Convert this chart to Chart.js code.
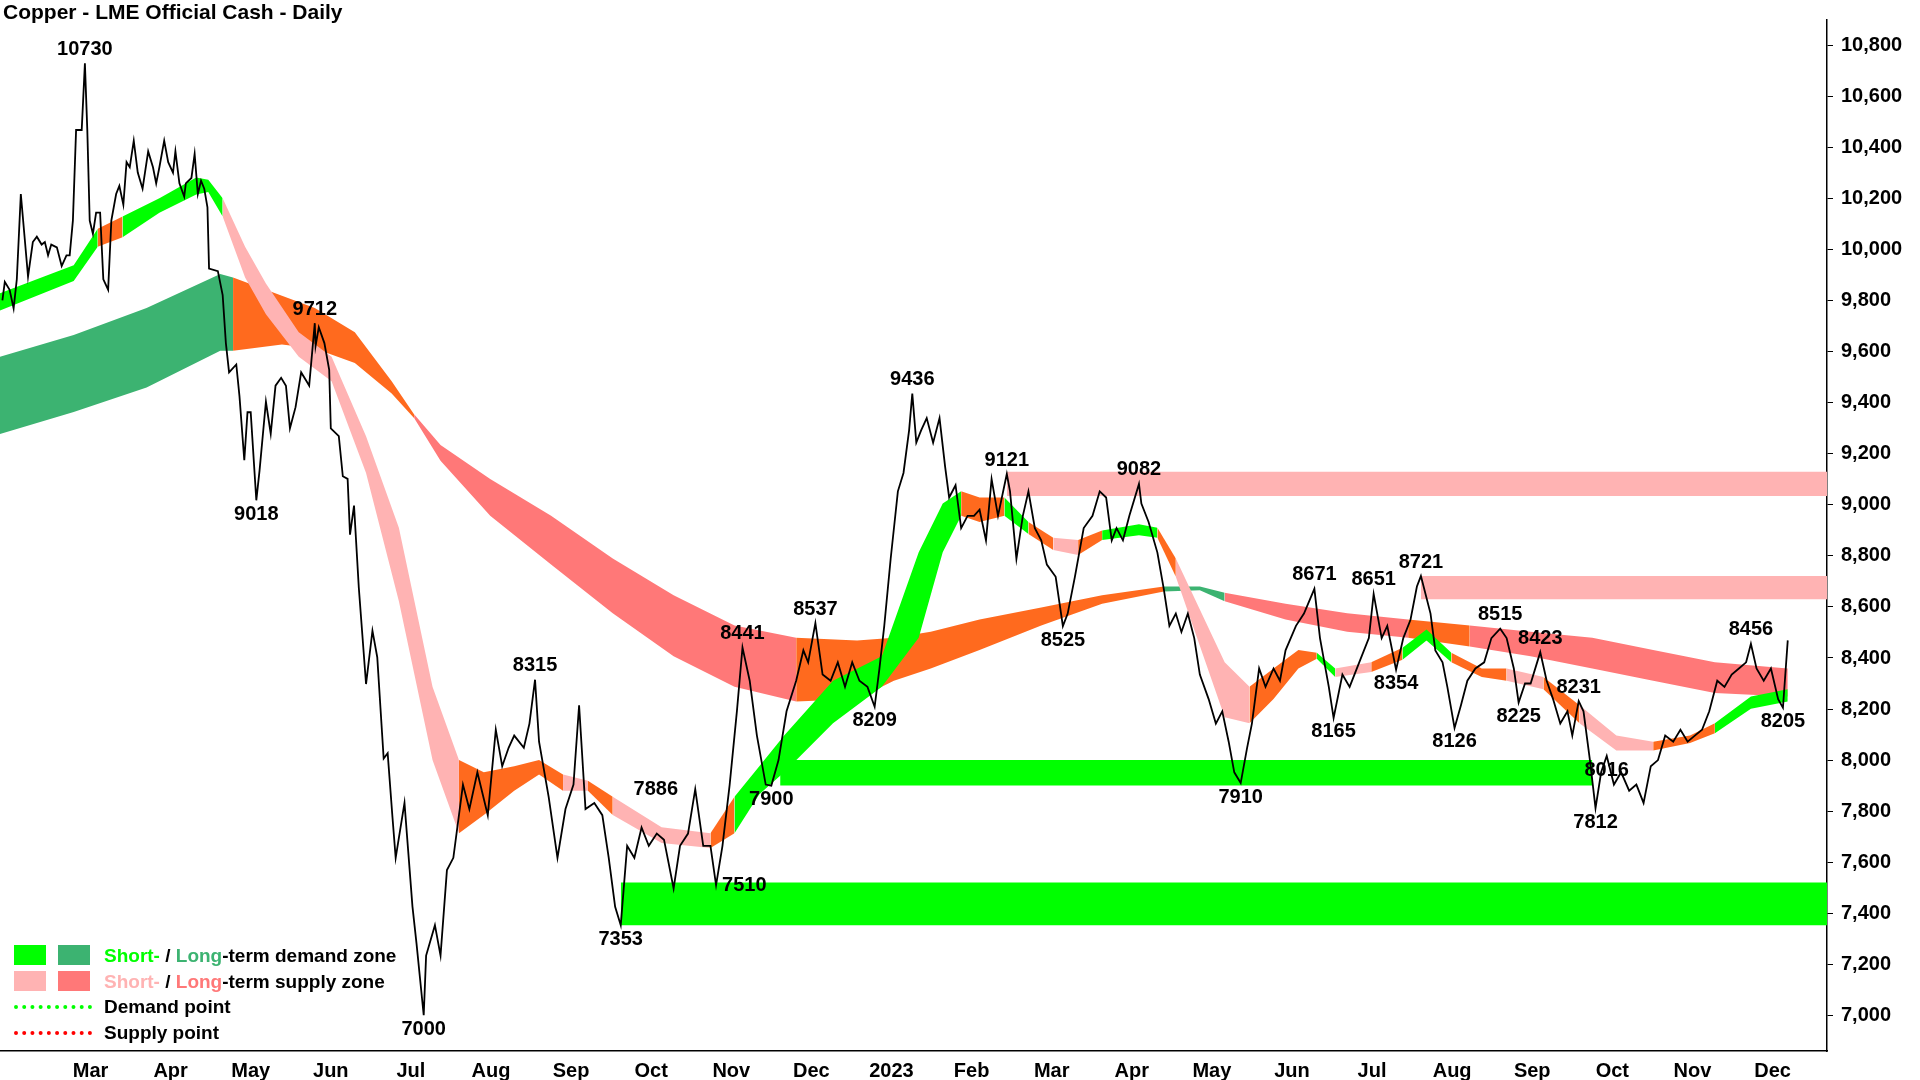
<!DOCTYPE html>
<html><head><meta charset="utf-8">
<script src="https://cdn.jsdelivr.net/npm/chart.js@4/dist/chart.umd.min.js"></script>
<style>
html,body{margin:0;padding:0;background:#fff;width:1920px;height:1080px;overflow:hidden;font-family:"Liberation Sans",Arial,sans-serif}
#wrap{position:absolute;left:0;top:0;width:1920px;height:1080px}
#title{position:absolute;left:3px;top:0px;font-weight:bold;font-size:21px;color:#000}
#legend{position:absolute;left:14px;top:943px;font-weight:bold;font-size:19px;line-height:25.5px}
.row{position:relative;height:25.5px;padding-left:90px;white-space:nowrap}
.sw{position:absolute;top:2px;width:32px;height:20px}
.dot{position:absolute;top:11px;left:0;width:78px;height:0;border-top:4px dotted}
</style></head><body>
<div id="wrap"><canvas id="c" width="1920" height="1080"></canvas></div>
<div id="title">Copper - LME Official Cash - Daily</div>
<div id="legend">
 <div class="row"><span class="sw" style="left:0;background:#00FF00"></span><span class="sw" style="left:44px;background:#3CB371"></span><span style="color:#00FF00">Short-</span> / <span style="color:#3CB371">Long</span>-term demand zone</div>
 <div class="row"><span class="sw" style="left:0;background:#FFB3B3"></span><span class="sw" style="left:44px;background:#FF7878"></span><span style="color:#FFB3B3">Short-</span> / <span style="color:#FF7878">Long</span>-term supply zone</div>
 <div class="row"><span class="dot" style="border-color:#00FF00"></span>Demand point</div>
 <div class="row"><span class="dot" style="border-color:#FF0000"></span>Supply point</div>
</div>
<script>
// x unit: months since 1 Mar 2022
const monthLabels=["Mar","Apr","May","Jun","Jul","Aug","Sep","Oct","Nov","Dec","2023","Feb","Mar","Apr","May","Jun","Jul","Aug","Sep","Oct","Nov","Dec"];
const yTicks=[7000,7200,7400,7600,7800,8000,8200,8400,8600,8800,9000,9200,9400,9600,9800,10000,10200,10400,10600,10800];

const priceX=[-0.60,-0.57,-0.51,-0.46,-0.42,-0.37,-0.28,-0.22,-0.17,-0.11,-0.07,-0.03,0.01,0.08,0.14,0.20,0.24,0.28,0.32,0.39,0.43,0.46,0.49,0.53,0.57,0.62,0.66,0.72,0.76,0.82,0.86,0.91,0.95,0.99,1.04,1.09,1.15,1.22,1.28,1.32,1.36,1.42,1.47,1.53,1.56,1.61,1.67,1.69,1.76,1.80,1.84,1.88,1.92,1.96,1.98,2.09,2.15,2.19,2.23,2.32,2.36,2.42,2.46,2.50,2.57,2.61,2.69,2.75,2.81,2.88,2.94,2.99,3.06,3.13,3.19,3.23,3.30,3.31,3.35,3.42,3.48,3.50,3.60,3.65,3.71,3.74,3.79,3.85,3.94,4.02,4.08,4.16,4.21,4.27,
4.31,4.42,4.52,4.57,4.66,4.69,4.80,4.87,4.95,5.03,5.15,5.23,5.33,5.46,5.56,5.64,5.72,5.79,5.91,5.98,6.05,6.10,6.22,6.33,6.43,6.53,6.60,6.68,6.79,6.89,6.97,7.05,7.12,7.20,7.29,7.38,7.47,7.57,7.66,7.78,7.86,7.96,8.05,8.15,8.24,8.31,8.39,8.48,8.57,8.64,8.73,8.82,8.93,9.00,9.09,9.19,9.31,9.40,9.46,9.55,9.64,9.74,9.83,9.92,10.01,10.10,10.20,10.29,10.35,10.41,10.49,10.58,10.65,10.72,10.76,10.81,10.87,10.94,11.02,11.10,11.17,11.22,11.30,11.37,11.45,11.53,11.60,11.68,11.75,11.83,11.94,11.98,12.06,12.14,12.21,12.29,12.37,12.44,12.55,12.64,12.70,12.79,12.90,13.01,13.10,13.18,13.25,13.31,13.39,13.47,13.59,13.62,13.71,13.82,13.90,13.97,14.05,14.12,14.20,14.28,14.35,14.46,14.55,14.63,14.71,14.78,14.86,14.94,15.00,15.09,15.17,15.27,15.35,15.42,15.55,15.65,15.78,15.85,15.96,16.02,16.13,16.22,16.34,16.46,16.52,16.62,16.69,16.80,16.89,16.98,17.06,17.11,17.23,17.29,17.38,17.44,17.53,17.61,17.69,17.79,17.90,17.99,18.10,18.18,18.27,18.33,18.41,18.48,18.60,18.68,18.76,18.85,18.94,19.00,19.08,19.14,19.22,19.29,19.36,19.43,19.52,19.61,19.71,19.80,19.89,19.98,20.07,20.16,20.26,20.35,20.44,20.53,20.62,20.71,20.81,20.90,20.99,21.08,21.17,21.23,21.30,21.39,21.48,21.57,21.63,21.69];
const priceY=[9801,9874,9843,9770,9884,10218,9895,10030,10051,10020,10030,9978,10020,10009,9936,9978,9978,10114,10469,10469,10730,10469,10114,10062,10145,10145,9884,9843,10114,10218,10250,10176,10343,10323,10427,10302,10239,10385,10323,10260,10323,10427,10343,10302,10385,10260,10208,10260,10281,10375,10218,10270,10239,10166,9926,9916,9822,9634,9519,9550,9425,9175,9363,9363,9018,9133,9404,9279,9467,9498,9467,9300,9383,9519,9488,9467,9712,9623,9696,9634,9529,9300,9269,9112,9102,8883,8997,8674,8298,8507,8403,8006,8027,7776,
7617,7832,7425,7282,7000,7234,7353,7234,7569,7617,7904,7808,7952,7784,8119,7976,8048,8096,8048,8143,8315,8072,7856,7617,7808,7904,8215,7808,7832,7784,7617,7425,7353,7664,7617,7736,7664,7712,7688,7497,7664,7712,7886,7664,7664,7510,7664,7904,8191,8441,8311,8096,7904,7900,8000,8191,8311,8430,8383,8537,8335,8311,8383,8287,8383,8311,8287,8209,8359,8526,8789,9053,9125,9292,9436,9244,9292,9340,9244,9340,9149,9029,9077,8909,8957,8957,8981,8861,9101,8957,9121,9053,8789,8957,9053,8909,8861,8766,8718,8525,8574,8718,8909,8957,9053,9029,8861,8909,8861,8957,9082,9005,8933,8813,8670,8526,8574,8502,8574,8478,8335,8239,8143,8191,8072,7952,7910,8048,8143,8359,8287,8359,8311,8430,8526,8574,8671,8478,8287,8165,8335,8287,8383,8478,8651,8478,8526,8354,8478,8550,8680,8721,8574,8430,8383,8287,8126,8215,8311,8359,8383,8478,8515,8478,8359,8225,8300,8300,8423,8311,8239,8143,8191,8096,8231,8191,8000,7812,7952,8016,7904,7952,7880,7904,7832,7976,8000,8096,8072,8119,8072,8096,8119,8191,8311,8287,8335,8359,8383,8456,8359,8311,8359,8239,8205,8469];

const shortX=[-0.63,0.29,0.59,0.90,1.36,1.82,1.97,2.15,2.43,2.69,3.10,3.51,3.94,4.35,4.77,5.10,5.41,5.79,6.10,6.40,6.71,7.02,7.63,8.24,8.54,8.85,9.16,9.77,10.38,10.84,11.14,11.37,11.60,11.91,12.21,12.52,12.83,13.13,13.59,13.82,14.05,14.66,14.97,15.27,15.58,15.81,16.04,16.49,16.88,17.18,17.49,17.87,18.18,18.64,19.09,19.55,20.01,20.47,20.78,21.23,21.69];
const shortUp=[9829,9939,10082,10130,10202,10283,10274,10202,10011,9867,9676,9580,9269,8910,8287,8000,7952,7976,8000,7943,7919,7856,7737,7713,7856,7976,8096,8311,8407,8814,9005,9053,9029,9029,8933,8871,8862,8900,8924,8910,8790,8383,8287,8359,8431,8421,8359,8383,8440,8512,8421,8359,8359,8326,8215,8096,8072,8096,8144,8249,8278];
const shortLo=[9762,9877,10011,10049,10145,10216,10226,10130,9891,9747,9580,9484,9125,8622,8000,7713,7785,7880,7943,7880,7880,7785,7675,7655,7713,7866,7952,8144,8287,8479,8814,8957,8933,8957,8886,8823,8804,8862,8881,8871,8718,8168,8144,8239,8359,8397,8326,8345,8393,8469,8383,8326,8311,8278,8144,8038,8038,8067,8105,8201,8230];
const shortColorX=[-1,0.59,0.90,2.05,5.10,6.17,6.56,6.86,8.16,8.39,11.37,11.83,11.98,12.37,12.67,13.05,13.28,13.51,13.74,13.97,14.89,15.73,15.88,16.42,16.65,17.34,18.02,18.48,18.86,20.01,20.62];
const shortColorK=["G","O","G","P","O","P","O","P","O","G","O","G","O","P","O","G","O","G","O","P","O","G","P","O","G","O","P","O","P","O","G"];

const longX=[-0.63,0.29,1.20,2.12,2.28,2.89,3.30,3.80,4.26,4.54,4.87,5.49,6.25,7.02,7.78,8.54,9.31,10.07,10.53,10.99,11.60,12.37,13.13,13.90,14.35,14.66,15.42,16.19,16.95,17.72,18.48,19.25,20.01,20.78,21.69];
const longUp=[9580,9666,9771,9905,9891,9819,9771,9676,9484,9355,9235,9101,8957,8790,8646,8527,8479,8469,8479,8503,8551,8598,8646,8680,8680,8656,8613,8575,8551,8527,8503,8479,8431,8383,8359];
const longLo=[9278,9364,9460,9604,9604,9628,9613,9556,9436,9340,9173,8957,8766,8575,8407,8287,8230,8239,8311,8359,8431,8527,8613,8661,8665,8622,8551,8503,8479,8445,8407,8359,8311,8263,8249];
const longColorX=[-1,2.17,4.54,8.70,8.85,9.31,13.90,14.43,16.65,17.11,20.93];
const longColorK=["D","O","R","O","R","O","D","R","O","R","O"];

const zoneStart=[11.94,17.11,9.11,7.12];
const zoneEnd=[22.18,22.18,19.25,22.18];
const zoneTop=[9130,8721,8000,7520];
const zoneBottom=[9035,8630,7900,7353];
const zoneKind=["P","P","G","G"];

const labelX=[0.43,2.57,3.30,4.66,6.05,7.12,7.86,8.31,8.64,9.00,9.55,10.29,10.76,11.94,12.64,13.59,14.86,15.78,16.02,16.52,16.80,17.11,17.53,18.10,18.33,18.60,19.08,19.29,19.43,21.23,21.63];
const labelV=[10730,9018,9712,7000,8315,7353,7886,7510,8441,7900,8537,8209,9436,9121,8525,9082,7910,8671,8165,8651,8354,8721,8126,8515,8225,8423,8231,7812,8016,8456,8205];
const labelPos=["a","b","a","b","a","b","l","r","a","b","a","b","a","a","b","a","b","a","b","a","b","a","b","a","b","a","a","b","b","a","b"];

const COL={G:"#00FF00",D:"#3CB371",P:"#FFB3B3",R:"#FF7878",O:"#FF6A1E"};
function colorAt(xs,ks,x){let k=ks[0];for(let i=0;i<xs.length;i++){if(x+1e-6>=xs[i])k=ks[i];}return COL[k];}
const pts=(xs,ys)=>xs.map((x,i)=>({x,y:ys[i]}));

const datasets=[];
datasets.push({data:pts(priceX,priceY),borderColor:"#000",borderWidth:1.8,pointRadius:0,tension:0,order:0,fill:false});
datasets.push({data:pts(shortX,shortLo),borderColor:"rgba(0,0,0,0)",borderWidth:0,pointRadius:0,order:1,fill:false});
datasets.push({data:pts(shortX,shortUp),borderColor:"rgba(0,0,0,0)",borderWidth:0,pointRadius:0,order:1,fill:'-1',
  backgroundColor:COL.G,segment:{backgroundColor:c=>colorAt(shortColorX,shortColorK,c.p0.parsed.x)}});
datasets.push({data:pts(longX,longLo),borderColor:"rgba(0,0,0,0)",borderWidth:0,pointRadius:0,order:2,fill:false});
datasets.push({data:pts(longX,longUp),borderColor:"rgba(0,0,0,0)",borderWidth:0,pointRadius:0,order:2,fill:'-1',
  backgroundColor:COL.D,segment:{backgroundColor:c=>colorAt(longColorX,longColorK,c.p0.parsed.x)}});
for(let i=0;i<zoneStart.length;i++){
  datasets.push({data:[{x:zoneStart[i],y:zoneTop[i]},{x:zoneEnd[i],y:zoneTop[i]}],borderColor:"rgba(0,0,0,0)",borderWidth:0,pointRadius:0,order:3,
    fill:{value:zoneBottom[i]},backgroundColor:COL[zoneKind[i]]});
}

const labelPlugin={id:"lbl",afterDatasetsDraw(chart){
  const ctx=chart.ctx,xs=chart.scales.x,ys=chart.scales.y;
  ctx.save();ctx.font="bold 20px 'Liberation Sans', Arial";ctx.fillStyle="#000";
  for(let i=0;i<labelX.length;i++){
    const px=xs.getPixelForValue(labelX[i]),py=ys.getPixelForValue(labelV[i]);const p=labelPos[i];
    if(p==="a"){ctx.textAlign="center";ctx.textBaseline="bottom";ctx.fillText(labelV[i],px,py-4);}
    else if(p==="b"){ctx.textAlign="center";ctx.textBaseline="top";ctx.fillText(labelV[i],px,py+4);}
    else if(p==="l"){ctx.textAlign="right";ctx.textBaseline="middle";ctx.fillText(labelV[i],px-2,py);}
    else {ctx.textAlign="left";ctx.textBaseline="middle";ctx.fillText(labelV[i],px+6,py);}
  }
  ctx.restore();
}};

new Chart(document.getElementById("c"),{
  type:"line",data:{datasets},
  options:{responsive:false,animation:false,events:[],layout:{padding:0},
    plugins:{legend:{display:false},tooltip:{enabled:false}},
    scales:{
      x:{type:"linear",min:-0.63,max:22.18,
        afterBuildTicks:s=>{s.ticks=monthLabels.map((_,i)=>({value:i+0.5}));},
        afterFit:s=>{s.height=29;},
        ticks:{autoSkip:false,maxRotation:0,padding:0,color:"#000",font:{family:"'Liberation Sans', Arial",size:20,weight:"bold"},
          callback:(v)=>monthLabels[Math.round(v-0.5)]},
        grid:{display:false},border:{display:true,color:"#000",width:1.5}},
      y:{position:"right",min:6860,max:10900,
        afterBuildTicks:s=>{s.ticks=yTicks.map(v=>({value:v}));},
        afterFit:s=>{s.width=93;},
        ticks:{padding:8,color:"#000",font:{family:"'Liberation Sans', Arial",size:20,weight:"bold"},
          callback:v=>v.toLocaleString("en-US")},
        grid:{drawOnChartArea:false,tickLength:6,color:"#000"},border:{display:true,color:"#000",width:1.5}}
    }},
  plugins:[labelPlugin]
});
</script></body></html>
